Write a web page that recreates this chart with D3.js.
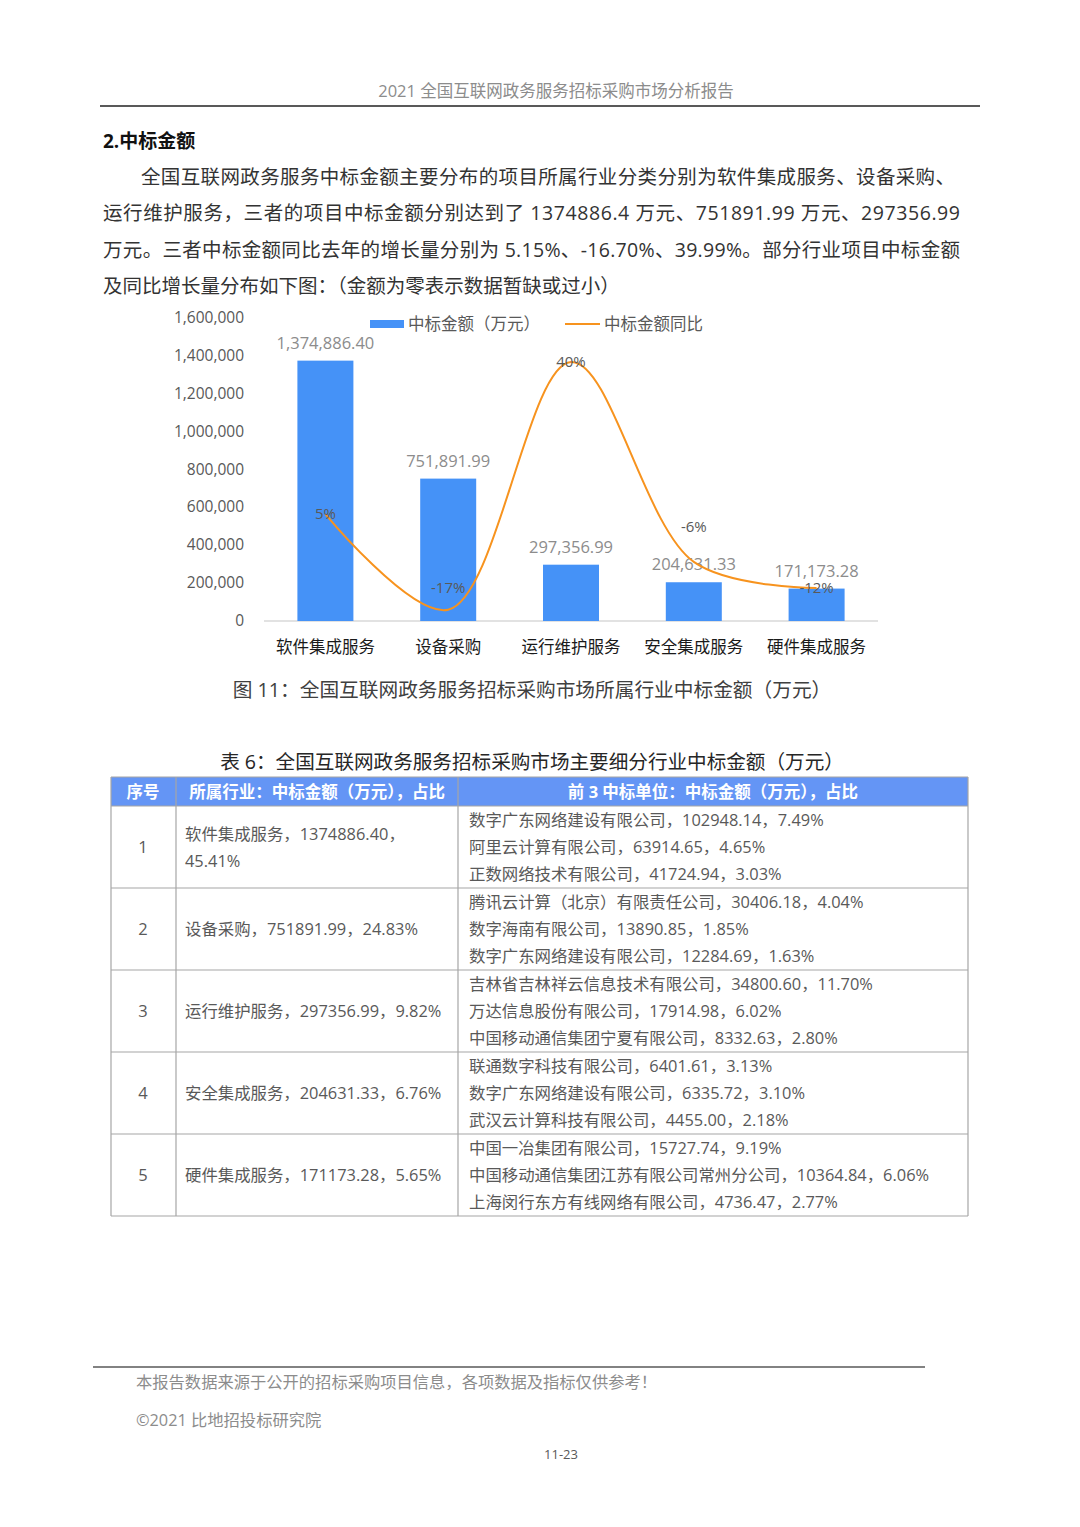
<!DOCTYPE html>
<html>
<head>
<meta charset="utf-8">
<script src="https://cdn.jsdelivr.net/npm/d3@7"></script>
<style>
  body { margin: 0; background: #fff; }
  svg text { font-family: "Open Sans", "Noto Sans CJK SC", sans-serif; }
</style>
</head>
<body>
<div class="svg-container"></div>
<script>
// chart data
var categories = ["软件集成服务", "设备采购", "运行维护服务", "安全集成服务", "硬件集成服务"];
var amounts = [1374886.40, 751891.99, 297356.99, 204631.33, 171173.28];
var growth = [5, -17, 40, -6, -12];
var yTicks = [0, 200000, 400000, 600000, 800000, 1000000, 1200000, 1400000, 1600000];

// text content
var headerText = "2021 全国互联网政务服务招标采购市场分析报告";
var sectionTitle = "2.中标金额";
var paraLines = [
  "全国互联网政务服务中标金额主要分布的项目所属行业分类分别为软件集成服务、设备采购、",
  "运行维护服务，三者的项目中标金额分别达到了 1374886.4 万元、751891.99 万元、297356.99",
  "万元。三者中标金额同比去年的增长量分别为 5.15%、-16.70%、39.99%。部分行业项目中标金额",
  "及同比增长量分布如下图：（金额为零表示数据暂缺或过小）"
];
var legendLabels = ["中标金额（万元）", "中标金额同比"];
var figCaption = "图 11：全国互联网政务服务招标采购市场所属行业中标金额（万元）";
var tableTitle = "表 6：全国互联网政务服务招标采购市场主要细分行业中标金额（万元）";
var tableHead = ["序号", "所属行业：中标金额（万元），占比", "前 3 中标单位：中标金额（万元），占比"];
var rowNo = ["1", "2", "3", "4", "5"];
var rowIndustry = [
  ["软件集成服务，1374886.40，", "45.41%"],
  ["设备采购，751891.99，24.83%"],
  ["运行维护服务，297356.99，9.82%"],
  ["安全集成服务，204631.33，6.76%"],
  ["硬件集成服务，171173.28，5.65%"]
];
var rowTop3 = [
  ["数字广东网络建设有限公司，102948.14，7.49%", "阿里云计算有限公司，63914.65，4.65%", "正数网络技术有限公司，41724.94，3.03%"],
  ["腾讯云计算（北京）有限责任公司，30406.18，4.04%", "数字海南有限公司，13890.85，1.85%", "数字广东网络建设有限公司，12284.69，1.63%"],
  ["吉林省吉林祥云信息技术有限公司，34800.60，11.70%", "万达信息股份有限公司，17914.98，6.02%", "中国移动通信集团宁夏有限公司，8332.63，2.80%"],
  ["联通数字科技有限公司，6401.61，3.13%", "数字广东网络建设有限公司，6335.72，3.10%", "武汉云计算科技有限公司，4455.00，2.18%"],
  ["中国一冶集团有限公司，15727.74，9.19%", "中国移动通信集团江苏有限公司常州分公司，10364.84，6.06%", "上海闵行东方有线网络有限公司，4736.47，2.77%"]
];
var footLines = ["本报告数据来源于公开的招标采购项目信息，各项数据及指标仅供参考！", "©2021 比地招投标研究院"];
var pageNo = "11-23";

var svg = d3.select(".svg-container").append("svg")
  .attr("width", 1080)
  .attr("height", 1527);

// page header
svg.append("text").attr("x", 556).attr("y", 97).attr("text-anchor", "middle")
  .attr("font-size", "16.5px").attr("fill", "#8c8c8c").text(headerText);
svg.append("line").attr("x1", 100).attr("x2", 980).attr("y1", 106).attr("y2", 106)
  .attr("stroke", "#222").attr("stroke-width", 1.5);

svg.append("text").attr("x", 103).attr("y", 148).attr("font-size", "19px")
  .attr("font-weight", "bold").attr("fill", "#111").text(sectionTitle);

// paragraph
paraLines.forEach(function(t, i) {
  var x0 = i == 0 ? 141 : 103;
  var el = svg.append("text").attr("x", x0).attr("y", 184 + i * 36.3)
    .attr("font-size", "19.5px").attr("fill", "#333").text(t);
  if (i < 3) el.attr("textLength", (i == 0 ? 955 : 960) - x0).attr("lengthAdjust", "spacing");
});

// chart
var x = d3.scaleBand().domain(categories).range([264, 878]).paddingInner(0.544).paddingOuter(0.272);
var y = d3.scaleLinear().domain([0, 1600000]).range([621, 318]);
var y2 = d3.scaleLinear().domain([-12, 40]).range([588, 362]);

svg.append("g").selectAll("text").data(yTicks).enter().append("text")
  .attr("x", 244).attr("y", function(d) { return y(d) + 5; })
  .attr("text-anchor", "end").attr("font-size", "15.5px").attr("fill", "#595959")
  .text(function(d) { return d3.format(",")(d); });

svg.append("line").attr("x1", 264).attr("x2", 878).attr("y1", y(0)).attr("y2", y(0))
  .attr("stroke", "#d9d9d9").attr("stroke-width", 1.5);

svg.append("g").selectAll("rect").data(amounts).enter().append("rect")
  .attr("x", function(d, i) { return x(categories[i]); })
  .attr("y", function(d) { return y(d); })
  .attr("width", x.bandwidth())
  .attr("height", function(d) { return y(0) - y(d); })
  .attr("fill", "#4592f7");

svg.append("g").selectAll("text").data(amounts).enter().append("text")
  .attr("x", function(d, i) { return x(categories[i]) + x.bandwidth() / 2; })
  .attr("y", function(d) { return y(d) - 12; })
  .attr("text-anchor", "middle").attr("font-size", "16.5px").attr("fill", "#8c8c8c")
  .text(function(d) { return d3.format(",.2f")(d); });

svg.append("g").selectAll("text").data(categories).enter().append("text")
  .attr("x", function(d) { return x(d) + x.bandwidth() / 2; })
  .attr("y", 653).attr("text-anchor", "middle").attr("font-size", "16.5px").attr("fill", "#1a1a1a")
  .text(function(d) { return d; });

var line = d3.line()
  .x(function(d, i) { return x(categories[i]) + x.bandwidth() / 2; })
  .y(function(d) { return y2(d); })
  .curve(d3.curveCatmullRom.alpha(0.5));
svg.append("path").datum(growth).attr("d", line)
  .attr("fill", "none").attr("stroke", "#f7931e").attr("stroke-width", 2);

// label shifts (px) for line labels
var labelDy = [0, -22, 0, -35, 0];
svg.append("g").selectAll("text").data(growth).enter().append("text")
  .attr("x", function(d, i) { return x(categories[i]) + x.bandwidth() / 2; })
  .attr("y", function(d, i) { return y2(d) + 5 + labelDy[i]; })
  .attr("text-anchor", "middle").attr("font-size", "15px").attr("fill", "#595959")
  .text(function(d) { return d + "%"; });

// legend
svg.append("rect").attr("x", 370).attr("y", 320).attr("width", 34).attr("height", 8).attr("fill", "#4592f7");
svg.append("text").attr("x", 408).attr("y", 330).attr("font-size", "16.5px").attr("fill", "#595959").text(legendLabels[0]);
svg.append("line").attr("x1", 565).attr("x2", 600).attr("y1", 324).attr("y2", 324)
  .attr("stroke", "#f7931e").attr("stroke-width", 2);
svg.append("text").attr("x", 604).attr("y", 330).attr("font-size", "16.5px").attr("fill", "#595959").text(legendLabels[1]);

svg.append("text").attr("x", 532).attr("y", 697).attr("text-anchor", "middle")
  .attr("font-size", "19.7px").attr("fill", "#404040").text(figCaption);

// table
svg.append("text").attr("x", 532).attr("y", 769).attr("text-anchor", "middle")
  .attr("font-size", "19.6px").attr("fill", "#262626").text(tableTitle);

var colX = [111, 176, 458, 968];
var headTop = 777, headBot = 806, rowH = 82;
svg.append("rect").attr("x", colX[0]).attr("y", headTop).attr("width", colX[3] - colX[0])
  .attr("height", headBot - headTop).attr("fill", "#6495f5");
var headCx = [143, 317, 713];
tableHead.forEach(function(t, i) {
  svg.append("text").attr("x", headCx[i]).attr("y", headBot - 8).attr("text-anchor", "middle")
    .attr("font-size", "16.5px").attr("font-weight", "bold").attr("fill", "#fff").text(t);
});

var grid = svg.append("g").attr("stroke", "#a6a6a6").attr("stroke-width", 1.2);
var tableBot = headBot + rowH * rowNo.length;
colX.forEach(function(cx) {
  grid.append("line").attr("x1", cx).attr("x2", cx).attr("y1", headTop).attr("y2", tableBot);
});
d3.range(rowNo.length + 2).forEach(function(k) {
  var yy = k == 0 ? headTop : headBot + (k - 1) * rowH;
  grid.append("line").attr("x1", colX[0]).attr("x2", colX[3]).attr("y1", yy).attr("y2", yy);
});

rowNo.forEach(function(n, r) {
  var top = headBot + r * rowH, mid = top + rowH / 2;
  svg.append("text").attr("x", 143).attr("y", mid + 6).attr("text-anchor", "middle")
    .attr("font-size", "16.5px").attr("fill", "#595959").text(n);
  var ind = rowIndustry[r];
  ind.forEach(function(t, j) {
    svg.append("text").attr("x", 185).attr("y", mid + 6 + (j - (ind.length - 1) / 2) * 27)
      .attr("font-size", "16.4px").attr("fill", "#595959").text(t);
  });
  rowTop3[r].forEach(function(t, j) {
    svg.append("text").attr("x", 469).attr("y", mid + 6 + (j - 1) * 27)
      .attr("font-size", "16.4px").attr("fill", "#595959").text(t);
  });
});

// footer
svg.append("line").attr("x1", 93).attr("x2", 925).attr("y1", 1367).attr("y2", 1367)
  .attr("stroke", "#595959").attr("stroke-width", 1.5);
footLines.forEach(function(t, i) {
  svg.append("text").attr("x", 136).attr("y", 1388 + i * 38).attr("font-size", "16.3px")
    .attr("fill", "#8c8c8c").text(t);
});
svg.append("text").attr("x", 561).attr("y", 1459).attr("text-anchor", "middle")
  .attr("font-size", "13px").attr("fill", "#595959").text(pageNo);
</script>
</body>
</html>
